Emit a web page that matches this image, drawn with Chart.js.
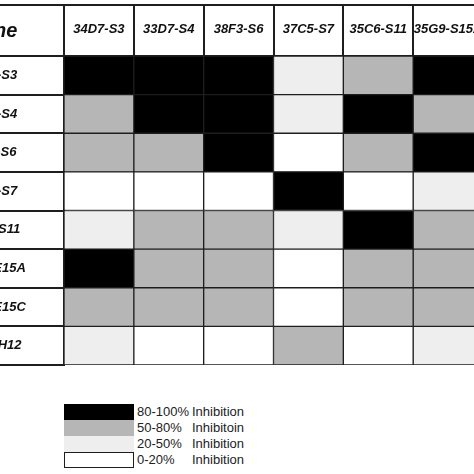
<!DOCTYPE html>
<html>
<head>
<meta charset="utf-8">
<script src="https://cdn.jsdelivr.net/npm/chart.js@4.4.1/dist/chart.umd.min.js"></script>
<style>
  html, body { margin: 0; padding: 0; width: 474px; height: 474px; overflow: hidden; background: #fff; }
  #wrap { position: absolute; left: -90px; top: 0; width: 580px; height: 380px; }
  .swatch { position: absolute; left: 64px; width: 70px; height: 16px; box-sizing: border-box; }
  .lg { position: absolute; font: 13px "Liberation Sans", Arial, sans-serif; color: #222; line-height: 16px; white-space: nowrap; }
</style>
</head>
<body>
<div id="wrap"><canvas id="myChart" width="580" height="380"></canvas></div>
<div id="legend"></div>
<script>
// rows and columns of the inhibition table
const cornerLabel = 'Clone';
const rowLabels = ['34D7-S3', '33D7-S4', '38F3-S6', '37C5-S7', '35C6-S11', '35G9-E15A', '35G9-E15C', '35G9-H12'];
const colLabels = ['34D7-S3', '33D7-S4', '38F3-S6', '37C5-S7', '35C6-S11', '35G9-S15A'];

// inhibition level per cell: 3 = 80-100%, 2 = 50-80%, 1 = 20-50%, 0 = 0-20%
const levelS3   = [3, 3, 3, 1, 2, 3];
const levelS4   = [2, 3, 3, 1, 3, 2];
const levelS6   = [2, 2, 3, 0, 2, 3];
const levelS7   = [0, 0, 0, 3, 0, 1];
const levelS11  = [1, 2, 2, 1, 3, 2];
const levelE15A = [3, 2, 2, 0, 2, 2];
const levelE15C = [2, 2, 2, 0, 2, 2];
const levelH12  = [1, 0, 0, 2, 0, 1];

const legendRanges = ['80-100%', '50-80%', '20-50%', '0-20%'];
const legendWords = ['Inhibition', 'Inhibitoin', 'Inhibition', 'Inhibition'];
const legendLevels = [3, 2, 1, 0];

const levelColors = ['#ffffff', '#eeeeee', '#b6b6b6', '#000000'];
const lineColor = '#1e1e1e';
const fontFamily = '"Liberation Sans", Arial, sans-serif';

const rows = [levelS3, levelS4, levelS6, levelS7, levelS11, levelE15A, levelE15C, levelH12];

// width of the label column and header row
const labelColWidth = 145;
const headerHeight = 51;

// measure widest row label so the labels sit centred in their column
const mctx = document.createElement('canvas').getContext('2d');
mctx.font = 'italic bold 13px ' + fontFamily;
const widest = Math.max(...rowLabels.map(t => mctx.measureText(t).width));
const yPadding = labelColWidth / 2 - labelColWidth - widest / 2; // centre label

const datasets = colLabels.map((name, j) => ({
    label: name,
    data: rowLabels.map(() => 1),
    backgroundColor: rows.map(r => levelColors[r[j]]),
    borderColor: lineColor,
    borderWidth: 1,
    borderSkipped: false,
    barPercentage: 1,
    categoryPercentage: 1
}));

// header top line, left border and the corner label
const tableFrame = {
    id: 'tableFrame',
    afterDraw(chart) {
        const ctx = chart.ctx;
        const area = chart.chartArea;
        const yAxis = chart.scales.y;
        const top = chart.scales.cols.top;
        ctx.save();
        ctx.strokeStyle = lineColor;
        ctx.lineWidth = 2;
        ctx.beginPath();
        ctx.moveTo(yAxis.left, top);
        ctx.lineTo(area.right, top);
        ctx.moveTo(yAxis.left, top);
        ctx.lineTo(yAxis.left, area.bottom);
        ctx.stroke();
        ctx.fillStyle = '#111';
        ctx.font = 'italic bold 20px ' + fontFamily;
        ctx.textAlign = 'center';
        ctx.textBaseline = 'middle';
        ctx.fillText(cornerLabel, (yAxis.left + yAxis.right) / 2 - 2, (top + area.top) / 2 + 1);
        ctx.restore();
    }
};

new Chart(document.getElementById('myChart'), {
    type: 'bar',
    data: { labels: rowLabels, datasets: datasets },
    options: {
        indexAxis: 'y',
        responsive: false,
        animation: false,
        layout: { padding: { left: 9, right: 7, top: 5, bottom: 15 } },
        plugins: { legend: { display: false }, tooltip: { enabled: false } },
        scales: {
            x: { type: 'linear', stacked: true, min: 0, max: colLabels.length, display: false },
            y: {
                type: 'category',
                stacked: true,
                offset: true,
                grid: { offset: true, drawOnChartArea: false, tickLength: labelColWidth, lineWidth: 2, color: lineColor },
                border: { display: true, width: 2, color: lineColor },
                ticks: {
                    crossAlign: 'center',
                    padding: yPadding,
                    color: '#111',
                    font: { family: fontFamily, size: 13, style: 'italic', weight: 'bold' }
                },
                afterFit(scale) { scale.width = labelColWidth; }
            },
            cols: {
                type: 'category',
                labels: colLabels,
                position: 'top',
                offset: true,
                grid: { offset: true, drawOnChartArea: false, tickLength: headerHeight, lineWidth: 2, color: lineColor },
                border: { display: true, width: 2, color: lineColor },
                ticks: {
                    padding: headerHeight / 2 - headerHeight - 7.8 + 0.8,
                    color: '#111',
                    maxRotation: 0,
                    autoSkip: false,
                    font: { family: fontFamily, size: 13, style: 'italic', weight: 'bold' }
                },
                afterFit(scale) { scale.height = headerHeight; }
            }
        }
    },
    plugins: [tableFrame]
});

// legend below the table
const legend = document.getElementById('legend');
legendRanges.forEach((range, i) => {
    const top = 404 + i * 16;
    const sw = document.createElement('div');
    sw.className = 'swatch';
    sw.style.top = top + 'px';
    sw.style.background = levelColors[legendLevels[i]];
    if (legendLevels[i] === 0) sw.style.border = '1.5px solid ' + lineColor;
    legend.appendChild(sw);

    const a = document.createElement('span');
    a.className = 'lg';
    a.style.left = '137px';
    a.style.top = top + 'px';
    a.textContent = range;
    legend.appendChild(a);

    const b = document.createElement('span');
    b.className = 'lg';
    b.style.left = '192px';
    b.style.top = top + 'px';
    b.textContent = legendWords[i];
    legend.appendChild(b);
});
</script>
</body>
</html>
